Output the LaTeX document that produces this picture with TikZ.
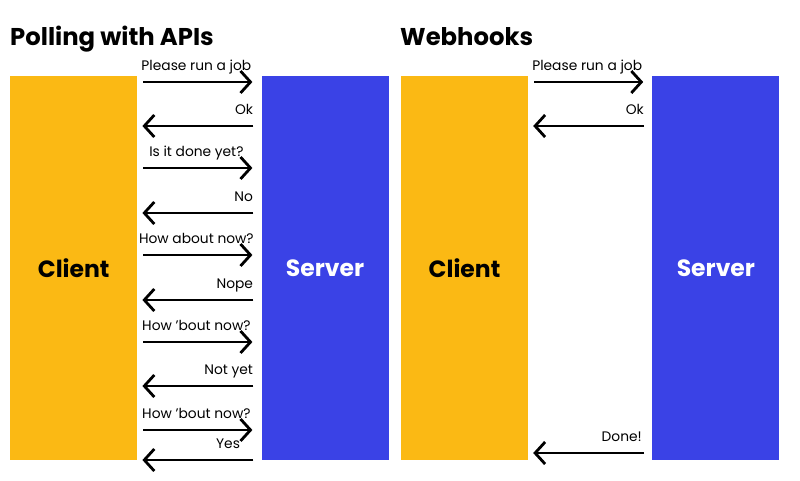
\documentclass[tikz,border=0pt]{standalone}
\usepackage{fontspec}
\setmainfont{Poppins}
\usetikzlibrary{arrows.meta,positioning}
\definecolor{jobyellow}{HTML}{FBB914}
\definecolor{jobblue}{HTML}{3A42E6}
\tikzstyle{side}=[minimum width=127pt, minimum height=384pt, inner sep=0pt, font=\fontsize{23.5}{26}\selectfont\bfseries]
\tikzstyle{title}=[inner sep=0pt, font=\fontsize{24.3}{27}\selectfont\bfseries]
\tikzstyle{msg}=[line width=2.8pt, shorten <=6pt, shorten >=9pt, -{Straight Barb[length=10pt,width=22pt,line width=2.8pt]}]
\tikzstyle{reply}=[msg, shorten <=8pt, shorten >=5pt]
\tikzstyle{lbl}=[inner sep=0pt, font=\fontsize{13.8}{16}\selectfont]

\begin{document}
\begin{tikzpicture}[x=1pt,y=-1pt,node distance=124pt]
\useasboundingbox (0,0) rectangle (800,480);
\node (ptitle) [title, anchor=base west] at (10,45) {Polling with APIs};
\node (wtitle) [title, anchor=base west] at (400,45) {Webhooks};
\node (client) [side, fill=jobyellow, anchor=north west] at (10,76) {Client};
\node (server) [side, fill=jobblue, text=white, right=of client] {Server};
\node (hclient) [side, fill=jobyellow, right=12pt of server] {Client};
\node (hserver) [side, fill=jobblue, text=white, right=of hclient] {Server};
% polling: requests and replies
\foreach \y/\txt in {82/Please run a job, 168/Is it done yet?, 255/How about now?, 342/How ’bout now?, 430/How ’bout now?}
  \draw[msg] (client.east |- 0,\y) -- (server.west |- 0,\y) node[lbl, midway, anchor=base, xshift=-3pt, yshift=12pt]{\txt};
\foreach \y/\txt in {126/Ok, 213/No, 300/Nope, 386/Not yet}
  \draw[reply] (server.west |- 0,\y) -- (client.east |- 0,\y) node[lbl, pos=0, anchor=base east, xshift=-7pt, yshift=12pt]{\txt};
\draw[reply] (server.west |- 0,460) -- (client.east |- 0,460) node[lbl, pos=0, anchor=base east, xshift=-20pt, yshift=12pt]{Yes};
% webhooks
\draw[msg] (hclient.east |- 0,82) -- (hserver.west |- 0,82) node[lbl, midway, anchor=base, xshift=-3pt, yshift=12pt]{Please run a job};
\draw[reply] (hserver.west |- 0,126) -- (hclient.east |- 0,126) node[lbl, pos=0, anchor=base east, xshift=-7pt, yshift=12pt]{Ok};
\draw[reply] (hserver.west |- 0,453) -- (hclient.east |- 0,453) node[lbl, pos=0, anchor=base east, xshift=-9pt, yshift=12pt]{Done!};
\end{tikzpicture}
\end{document}
